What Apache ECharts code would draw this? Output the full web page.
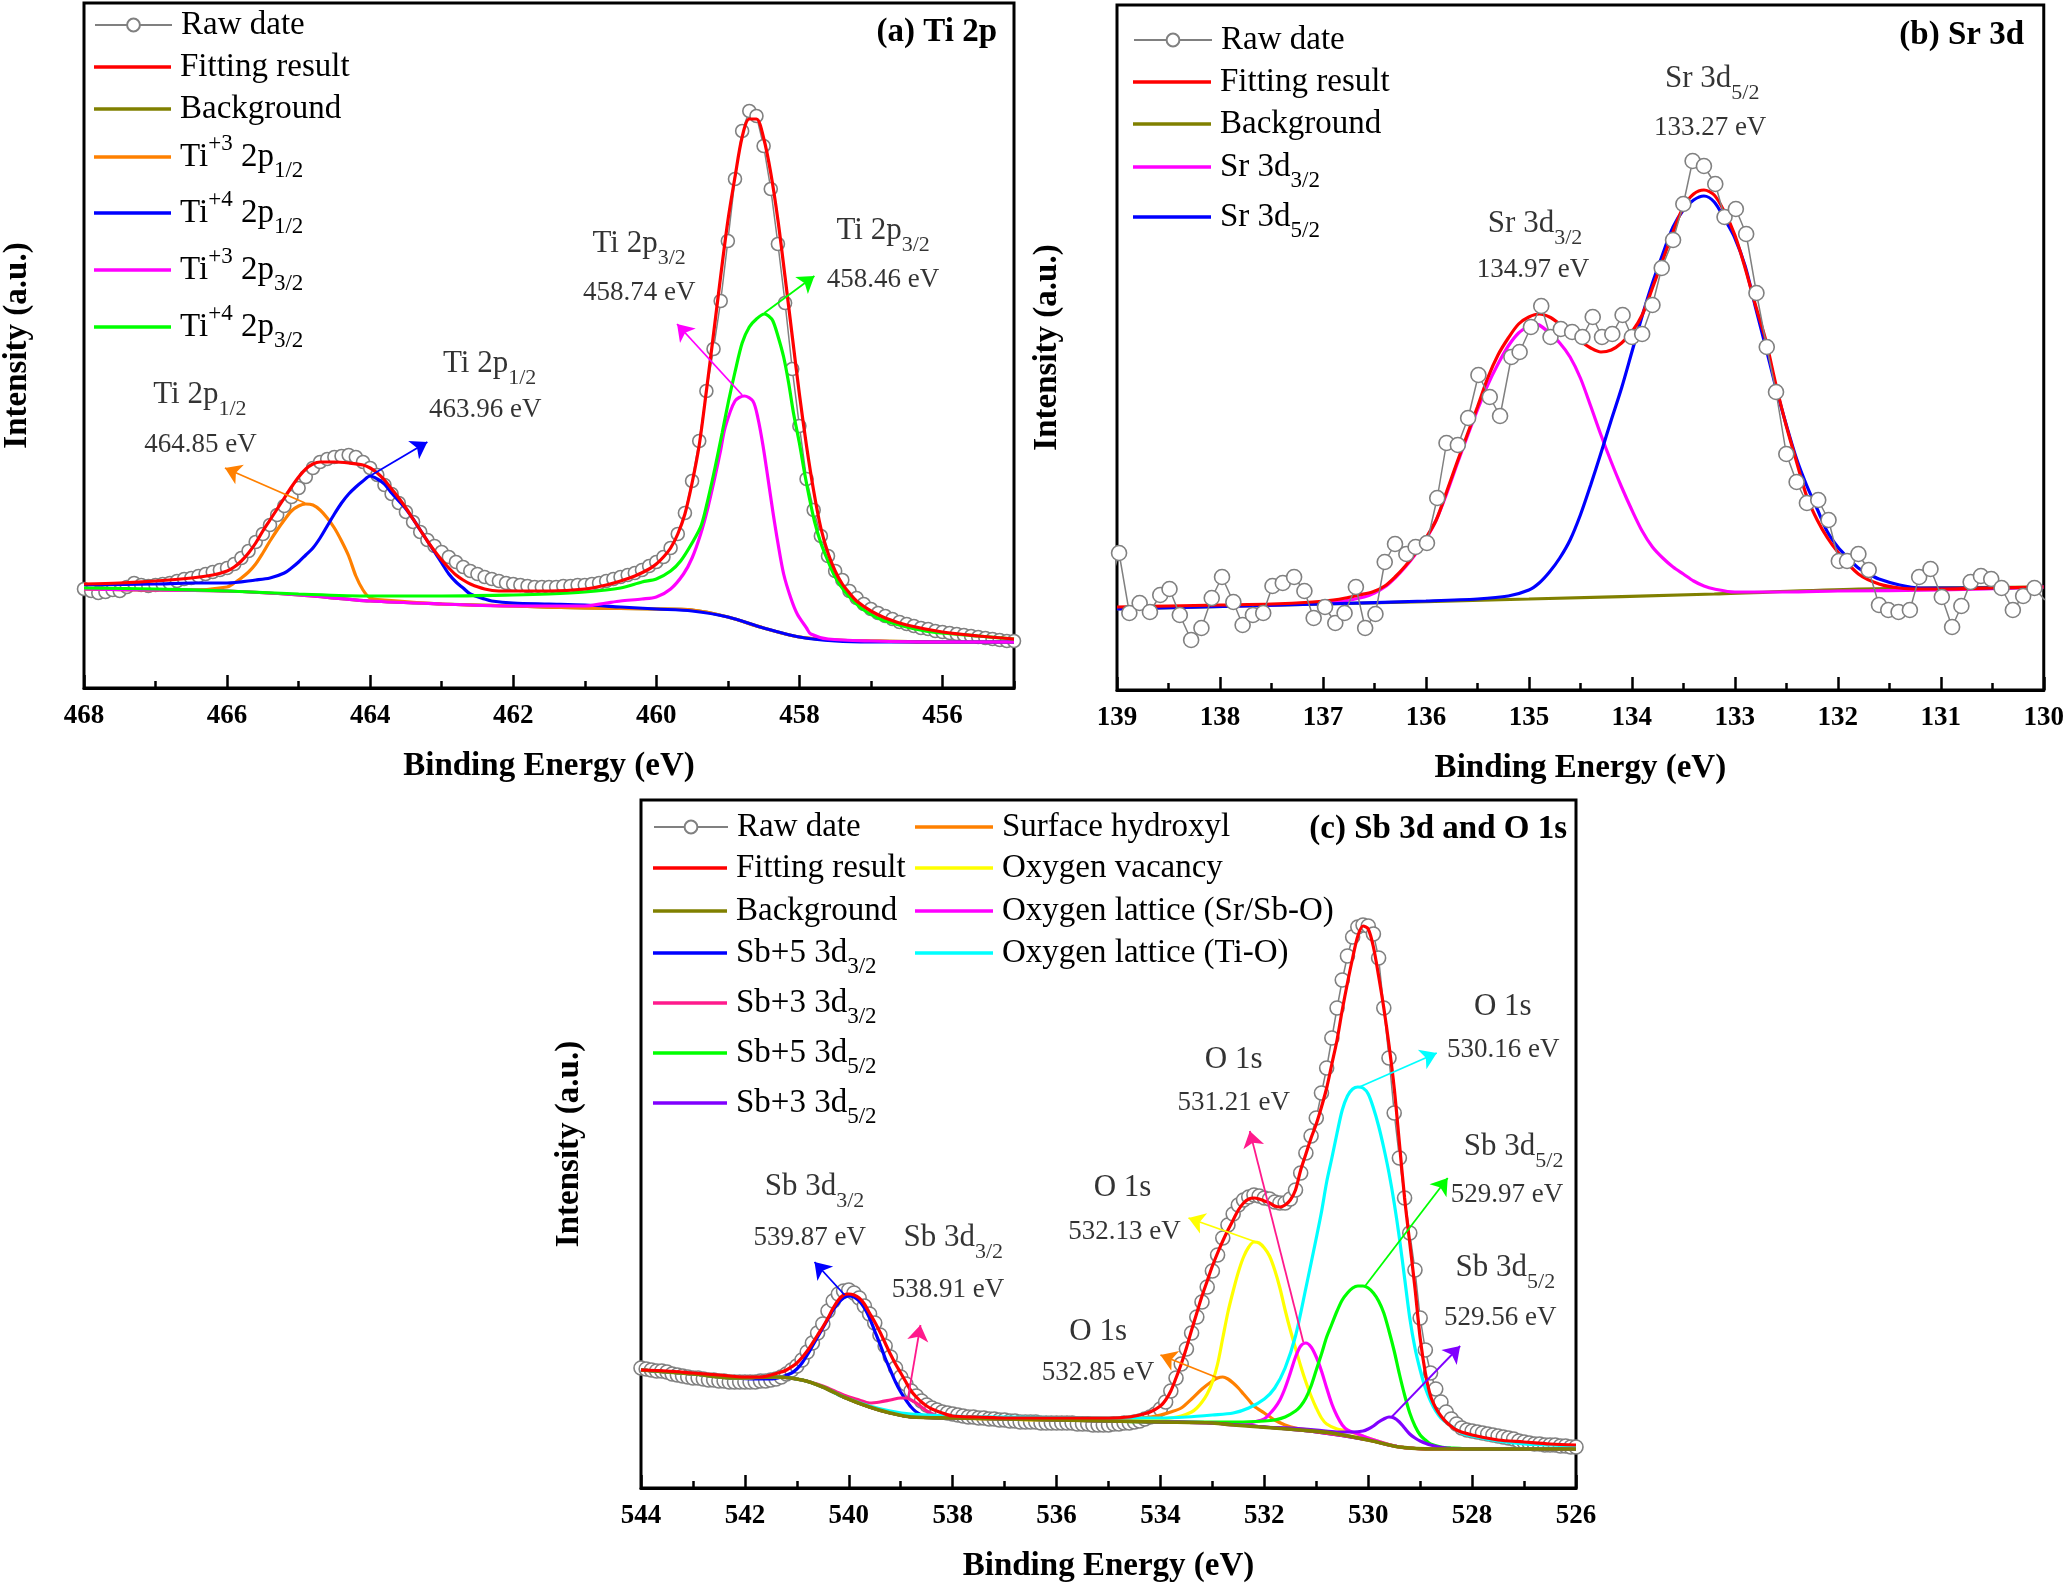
<!DOCTYPE html>
<html><head><meta charset="utf-8">
<script src="https://cdn.jsdelivr.net/npm/echarts@6/dist/echarts.min.js"></script>
<style>html,body{margin:0;padding:0;background:#fff}#c{width:2067px;height:1587px}</style>
</head><body><div id="c"></div>
<script>
// ---------------- Panel (a) Ti 2p ----------------
const aMajorTicks = [456,458,460,462,464,466,468];
const aMinorTicks = [455,457,459,461,463,465,467];
const aRaw = [[468.0,99],[467.9,97],[467.8,95],[467.7,96],[467.6,98],[467.5,97],[467.4,101],[467.3,105],[467.2,103],[467.1,102],[467.0,103],[466.9,104],[466.8,105],[466.7,107],[466.6,109],[466.5,110],[466.4,112],[466.3,114],[466.2,116],[466.1,118],[466.0,120],[465.9,124],[465.8,130],[465.7,137],[465.6,146],[465.5,154],[465.4,163],[465.3,173],[465.2,182],[465.1,191],[465.0,200],[464.9,211],[464.8,220],[464.7,226],[464.6,229],[464.5,231],[464.4,232],[464.3,233],[464.2,231],[464.1,226],[464.0,220],[463.9,213],[463.8,203],[463.7,194],[463.6,185],[463.5,176],[463.4,166],[463.3,156],[463.2,148],[463.1,142],[463.0,136],[462.9,131],[462.8,126],[462.7,121],[462.6,117],[462.5,114],[462.4,111],[462.3,109],[462.2,107],[462.1,105],[462.0,104],[461.9,103],[461.8,102],[461.7,101],[461.6,101],[461.5,101],[461.4,101],[461.3,102],[461.2,102],[461.1,103],[461.0,103],[460.9,104],[460.8,105],[460.7,107],[460.6,109],[460.5,111],[460.4,113],[460.3,115],[460.2,118],[460.1,122],[460.0,126],[459.9,131],[459.8,140],[459.7,154],[459.6,175],[459.5,207],[459.4,247],[459.3,297],[459.2,339],[459.1,387],[459.0,447],[458.9,509],[458.8,557],[458.7,577],[458.6,572],[458.5,542],[458.4,499],[458.3,444],[458.2,385],[458.1,319],[458.0,262],[457.9,209],[457.8,178],[457.7,152],[457.6,132],[457.5,117],[457.4,108],[457.3,97],[457.2,90],[457.1,84],[457.0,79],[456.9,75],[456.8,72],[456.7,69],[456.6,66],[456.5,64],[456.4,62],[456.3,60],[456.2,59],[456.1,57],[456.0,56],[455.9,55],[455.8,54],[455.7,53],[455.6,52],[455.5,51],[455.4,50],[455.3,49],[455.2,48],[455.1,47],[455.0,47]];
const aFit = [[468,104],[467.5,105],[467,107],[466.5,110],[466.2,113],[466,117],[465.9,121],[465.8,127],[465.7,135],[465.6,145],[465.5,157],[465.4,168],[465.3,179],[465.2,190],[465.1,201],[465,211],[464.9,219],[464.8,224],[464.7,226],[464.5,226],[464.3,225],[464.1,223],[464,220],[463.9,215],[463.8,208],[463.7,199],[463.6,190],[463.5,180],[463.4,169],[463.3,158],[463.2,147],[463.1,137],[463,128],[462.9,120],[462.8,113],[462.7,108],[462.6,104],[462.4,99],[462.2,97],[462,97],[461.5,97],[461,99],[460.7,103],[460.5,107],[460.3,112],[460.1,119],[460,124],[459.9,131],[459.8,140],[459.7,154],[459.6,174],[459.5,205],[459.4,243],[459.3,297],[459.2,354],[459.1,412],[459,467],[458.9,511],[458.8,551],[458.7,569],[458.6,569],[458.5,550],[458.4,515],[458.3,468],[458.2,411],[458.1,352],[458,294],[457.9,242],[457.8,197],[457.7,160],[457.6,135],[457.5,117],[457.4,104],[457.3,95],[457.2,87],[457,77],[456.8,70],[456.5,63],[456,56],[455.5,52],[455,49]];
const aBg = [[468,99],[467,98],[466,97],[465,93],[464,87],[463,84],[462,82],[461,80],[460,79],[459.5,78],[459,71],[458.5,60],[458,51],[457.5,48],[457,47],[456,46],[455,46]];
const aTi3_12 = [[468,99],[467,98],[466.5,98],[466,101],[465.9,105],[465.8,110],[465.7,116],[465.6,124],[465.5,135],[465.4,147],[465.3,158],[465.2,168],[465.1,177],[465,182],[464.9,184],[464.8,183],[464.7,178],[464.6,170],[464.5,160],[464.4,147],[464.3,132],[464.2,112],[464.1,98],[464,90],[463.8,88],[463,84],[462,82],[461,80],[460,79],[459.5,78],[459,71],[458.5,60],[458,51],[457.5,48],[457,47],[456,46],[455,46]];
const aTi4_12 = [[468,103],[467,104],[466.5,105],[466,105],[465.6,108],[465.4,110],[465.2,115],[465.1,120],[465,126],[464.9,133],[464.8,140],[464.7,150],[464.6,162],[464.5,174],[464.4,185],[464.3,194],[464.2,201],[464.1,207],[464,212],[463.9,209],[463.8,204],[463.7,195],[463.6,187],[463.5,179],[463.4,169],[463.3,158],[463.2,147],[463.1,136],[463,125],[462.9,114],[462.8,106],[462.7,100],[462.6,94],[462.4,89],[462.3,87],[462,85],[461.5,84],[461,83],[460.5,81],[460,79],[459.5,77],[459,71],[458.5,60],[458,51],[457.5,47],[457,46],[456,46],[455,46]];
const aTi3_32 = [[468,99],[467,98],[466,97],[465,93],[464,87],[463,84],[462,82],[461,82],[460.7,85],[460.5,87],[460.2,89],[460,91],[459.8,99],[459.62,114],[459.5,130],[459.38,154],[459.28,180],[459.18,211],[459.1,238],[459.04,260],[458.9,287],[458.77,292],[458.65,287],[458.58,270],[458.51,243],[458.44,210],[458.37,176],[458.3,145],[458.22,114],[458.12,90],[458.03,74],[457.9,60],[457.84,54],[457.6,49],[457,47],[456,46],[455,46]];
const aTi4_32 = [[468,100],[467,99],[466,97],[465,94],[464,92],[463,92],[462,93],[461.5,94],[461,96],[460.5,100],[460.2,106],[460,109],[459.8,117],[459.66,127],[459.5,145],[459.37,163],[459.28,188],[459.18,220],[459.08,255],[458.99,287],[458.9,316],[458.8,345],[458.7,361],[458.6,369],[458.49,374],[458.43,372],[458.37,367],[458.3,352],[458.22,331],[458.15,305],[458.08,274],[458,245],[457.93,216],[457.86,190],[457.79,167],[457.7,145],[457.6,127],[457.5,111],[457.36,96],[457.2,84],[457.1,78],[456.87,69],[456.5,61],[456.15,56],[455.5,52],[455,49]];
const aLabels = [['Ti 2p_{1/2}',466.38,293,'L'],['464.85 eV',466.37,243,'N'],['Ti 2p_{1/2}',462.33,324,'L'],['463.96 eV',462.39,278,'N'],['Ti 2p_{3/2}',460.24,444,'L'],['458.74 eV',460.24,395,'N'],['Ti 2p_{3/2}',456.83,457,'L'],['458.46 eV',456.83,408,'N']];
const aArrows = [[464.91,185,466.03,220,'#ff8000'],[463.98,213,463.2,246,'#0000ff'],[458.8,293,459.71,364,'#ff00ff'],[458.49,375,457.79,412,'#00ff00']];

// ---------------- Panel (b) Sr 3d ----------------
const bMajorTicks = [130,131,132,133,134,135,136,137,138,139];
const bMinorTicks = [130.5,131.5,132.5,133.5,134.5,135.5,136.5,137.5,138.5];
const bRaw = [[139.07,105],[138.98,137],[138.88,77],[138.78,87],[138.68,78],[138.58,95],[138.49,101],[138.39,75],[138.28,50],[138.18,62],[138.08,92],[137.98,113],[137.87,88],[137.78,65],[137.68,75],[137.58,77],[137.49,104],[137.39,107],[137.28,113],[137.18,99],[137.09,72],[136.98,83],[136.88,67],[136.79,77],[136.68,103],[136.59,62],[136.49,76],[136.40,128],[136.30,146],[136.19,136],[136.10,143],[135.99,147],[135.89,192],[135.80,247],[135.69,245],[135.59,272],[135.49,315],[135.38,293],[135.28,274],[135.17,333],[135.09,338],[134.98,363],[134.88,384],[134.79,353],[134.69,361],[134.58,358],[134.48,353],[134.38,373],[134.29,353],[134.19,356],[134.09,375],[134.00,353],[133.90,356],[133.80,385],[133.71,422],[133.60,450],[133.50,486],[133.41,529],[133.30,524],[133.19,506],[133.10,473],[132.99,481],[132.89,456],[132.79,397],[132.69,343],[132.60,298],[132.50,236],[132.40,208],[132.30,187],[132.19,190],[132.09,170],[131.99,129],[131.91,129],[131.80,136],[131.70,120],[131.60,85],[131.51,80],[131.41,78],[131.30,80],[131.21,113],[131.10,121],[130.99,93],[130.89,63],[130.80,84],[130.71,108],[130.61,114],[130.51,111],[130.41,102],[130.30,80],[130.20,94],[130.09,102],[129.99,90]];
const bFit = [[139,83],[138.5,84],[138,85],[137.5,86],[137.1,88],[136.9,90],[136.78,92],[136.65,95],[136.52,98],[136.4,104],[136.3,113],[136.2,124],[136.1,137],[136,152],[135.9,170],[135.8,198],[135.7,227],[135.6,255],[135.5,283],[135.4,312],[135.3,335],[135.2,352],[135.1,366],[135,373],[134.9,376],[134.8,373],[134.7,366],[134.6,358],[134.5,349],[134.4,342],[134.3,338],[134.2,340],[134.1,347],[134,358],[133.9,375],[133.8,402],[133.7,430],[133.6,458],[133.5,483],[133.4,496],[133.3,500],[133.2,495],[133.1,478],[133,455],[132.9,422],[132.8,385],[132.7,350],[132.6,305],[132.5,264],[132.4,228],[132.3,193],[132.2,170],[132.1,152],[132,138],[131.8,116],[131.6,106],[131.4,102],[131.2,101],[131,101],[130.5,102],[130,103]];
const bBg = [[139,81],[137,86],[135,91],[133.2,96],[131.8,101],[130,103]];
const bSr32 = [[139,82],[138,84],[137.5,85],[137,87],[136.8,89],[136.6,93],[136.5,97],[136.4,103],[136.3,112],[136.2,123],[136.1,136],[136,151],[135.9,170],[135.8,196],[135.7,225],[135.6,253],[135.5,280],[135.4,305],[135.3,326],[135.2,344],[135.1,357],[135,364],[134.95,366],[134.9,365],[134.8,357],[134.7,347],[134.6,333],[134.5,312],[134.4,284],[134.3,255],[134.2,228],[134.1,203],[134,180],[133.9,159],[133.8,143],[133.7,132],[133.6,123],[133.5,116],[133.4,109],[133.3,104],[133.2,101],[133,98],[132.5,98],[132,99],[131,100],[130,103]];
const bSr52 = [[139,81],[137,86],[136,89],[135.5,91],[135.2,94],[135,100],[134.9,107],[134.8,118],[134.7,132],[134.6,150],[134.5,175],[134.4,205],[134.3,237],[134.2,270],[134.1,302],[134,338],[133.9,374],[133.8,407],[133.7,436],[133.6,463],[133.5,480],[133.4,490],[133.3,494],[133.2,488],[133.1,471],[133,452],[132.9,424],[132.8,383],[132.7,343],[132.6,302],[132.5,265],[132.4,231],[132.3,204],[132.2,181],[132.1,158],[132,143],[131.9,132],[131.8,122],[131.7,116],[131.6,111],[131.4,105],[131.2,102],[131,102],[130.5,102],[130,103]];
const bLabels = [['Sr 3d_{5/2}',133.22,611,'L'],['133.27 eV',133.24,562,'N'],['Sr 3d_{3/2}',134.94,466,'L'],['134.97 eV',134.96,420,'N']];

// ---------------- Panel (c) Sb 3d and O 1s ----------------
const cMajorTicks = [526,528,530,532,534,536,538,540,542,544];
const cMinorTicks = [527,529,531,533,535,537,539,541,543];
const cRaw = [[544.0,120],[543.9,119],[543.8,118],[543.7,117],[543.6,117],[543.5,116],[543.4,114],[543.3,113],[543.2,112],[543.1,111],[543.0,110],[542.9,110],[542.8,109],[542.7,108],[542.6,108],[542.5,107],[542.4,107],[542.3,106],[542.2,106],[542.1,106],[542.0,106],[541.9,106],[541.8,106],[541.7,107],[541.6,107],[541.5,108],[541.4,109],[541.3,111],[541.2,114],[541.1,118],[541.0,122],[540.9,128],[540.8,136],[540.7,145],[540.6,155],[540.5,164],[540.4,177],[540.3,187],[540.2,194],[540.1,197],[540.0,198],[539.9,195],[539.8,190],[539.7,182],[539.6,174],[539.5,165],[539.4,153],[539.3,142],[539.2,131],[539.1,120],[539.0,111],[538.9,104],[538.8,97],[538.7,92],[538.6,87],[538.5,83],[538.4,80],[538.3,78],[538.2,76],[538.1,75],[538.0,74],[537.9,73],[537.8,72],[537.7,71],[537.6,71],[537.5,70],[537.4,70],[537.3,69],[537.2,69],[537.1,68],[537.0,68],[536.9,67],[536.8,67],[536.7,66],[536.6,66],[536.5,66],[536.4,66],[536.3,65],[536.2,65],[536.1,65],[536.0,65],[535.9,65],[535.8,65],[535.7,65],[535.6,64],[535.5,64],[535.4,64],[535.3,63],[535.2,63],[535.1,63],[535.0,63],[534.9,64],[534.8,64],[534.7,65],[534.6,65],[534.5,66],[534.4,67],[534.3,69],[534.2,71],[534.1,74],[534.0,79],[533.9,86],[533.8,97],[533.7,110],[533.6,124],[533.5,139],[533.4,155],[533.3,171],[533.2,186],[533.1,201],[533.0,217],[532.9,233],[532.8,250],[532.7,263],[532.6,274],[532.5,283],[532.4,288],[532.3,291],[532.2,293],[532.1,292],[532.0,290],[531.9,289],[531.8,286],[531.7,285],[531.6,285],[531.5,289],[531.4,298],[531.3,315],[531.2,335],[531.1,352],[531.0,370],[530.9,395],[530.8,420],[530.7,450],[530.6,480],[530.5,508],[530.4,532],[530.3,551],[530.2,561],[530.1,563],[530.0,562],[529.9,554],[529.8,530],[529.7,480],[529.6,430],[529.5,375],[529.4,330],[529.3,290],[529.2,255],[529.1,218],[529.0,170],[528.9,138],[528.8,115],[528.7,99],[528.6,86],[528.5,76],[528.4,69],[528.3,64],[528.2,60],[528.1,58],[528.0,57],[527.9,56],[527.8,55],[527.7,54],[527.6,53],[527.5,52],[527.4,51],[527.3,50],[527.2,49],[527.1,47],[527.0,46],[526.9,45],[526.8,44],[526.7,44],[526.6,43],[526.5,43],[526.4,43],[526.3,42],[526.2,42],[526.1,41],[526.0,41]];
const cFit = [[544,118],[543.5,117],[543,115],[542.5,113],[542,111],[541.7,111],[541.5,113],[541.3,116],[541.2,118],[541,125],[540.8,137],[540.6,153],[540.5,161],[540.4,170],[540.3,180],[540.2,188],[540.1,193],[540,194],[539.9,193],[539.8,190],[539.7,184],[539.6,175],[539.5,166],[539.4,156],[539.3,145],[539.2,134],[539.1,124],[539,115],[538.9,106],[538.8,97],[538.7,91],[538.6,86],[538.5,82],[538.4,79],[538.2,75],[538,72],[537.5,71],[537,70],[536,70],[535,70],[534.6,71],[534.4,73],[534.2,76],[534,82],[533.9,88],[533.8,97],[533.7,110],[533.6,124],[533.5,140],[533.4,158],[533.3,175],[533.2,192],[533.1,207],[533,222],[532.9,235],[532.8,247],[532.7,258],[532.6,268],[532.5,278],[532.4,285],[532.3,289],[532.2,290],[532.1,289],[532,287],[531.9,285],[531.8,282],[531.7,281],[531.6,283],[531.5,288],[531.4,298],[531.3,318],[531.2,334],[531.1,350],[531,364],[530.9,381],[530.8,400],[530.7,424],[530.6,448],[530.5,478],[530.4,505],[530.3,530],[530.2,552],[530.1,562],[530,559],[529.9,541],[529.8,512],[529.7,480],[529.6,443],[529.5,400],[529.4,345],[529.3,290],[529.2,245],[529.1,200],[529,150],[528.9,115],[528.8,92],[528.7,80],[528.6,72],[528.5,66],[528.3,58],[528,53],[527.5,48],[527,46],[526.5,44],[526,43]];
const cBg = [[544,118],[543,114],[542.2,110],[541.4,111],[540.9,108],[540.5,101],[540.1,91],[539.6,81],[539.2,75],[538.8,71],[538,70],[536,68],[534,66],[533,65],[532.6,63],[531.3,58],[530.7,55],[530,48],[529.4,41],[528.7,39],[526,39]];
const cSb5_32 = [[544,118],[543,114],[542.2,110],[541.8,109],[541.5,109],[541.3,111],[541.1,115],[541,119],[540.9,125],[540.8,133],[540.7,142],[540.6,151],[540.5,160],[540.4,169],[540.3,178],[540.2,185],[540.1,190],[540,192],[539.9,191],[539.8,187],[539.7,180],[539.6,170],[539.5,157],[539.4,144],[539.3,130],[539.2,118],[539.1,106],[539,96],[538.9,88],[538.8,81],[538.7,76],[538.6,73],[538.5,71],[538.3,70],[538,70],[536,68],[534,66],[533,65],[532,61],[531,56],[530,48],[529.4,41],[528.7,39],[526,39]];
const cSb3_32 = [[544,118],[543,114],[542.2,110],[541.4,111],[540.9,108],[540.5,102],[540.1,93],[539.8,88],[539.6,85],[539.4,86],[539.2,88],[539,90],[538.9,90],[538.8,88],[538.7,85],[538.6,81],[538.5,77],[538.3,72],[538.1,70],[537.5,70],[536,68],[534,66],[533,65],[532,61],[531,56],[530,48],[529.4,41],[528.7,39],[526,39]];
const cSb5_52 = [[544,118],[543,114],[542.2,110],[541.4,111],[540.9,108],[540.5,101],[540.1,91],[539.6,81],[539.2,75],[538.8,71],[538,70],[536,68],[534,66],[533,66],[532.5,66],[532,67],[531.8,68],[531.6,71],[531.4,77],[531.3,82],[531.2,90],[531.1,102],[531,118],[530.9,134],[530.8,151],[530.7,164],[530.6,177],[530.5,188],[530.4,195],[530.3,200],[530.2,202],[530.1,202],[530,200],[529.9,195],[529.8,187],[529.7,175],[529.6,157],[529.5,137],[529.4,114],[529.3,93],[529.2,75],[529.1,62],[529,53],[528.9,48],[528.8,44],[528.6,41],[528.4,40],[528,39],[526,39]];
const cSb3_52 = [[544,118],[543,114],[542.2,110],[541.4,111],[540.9,108],[540.5,101],[540.1,91],[539.6,81],[539.2,75],[538.8,71],[538,70],[536,68],[534,66],[533,65],[532,61],[531.5,60],[531,58],[530.6,56],[530.3,56],[530.1,57],[530,59],[529.9,62],[529.8,66],[529.7,69],[529.6,71],[529.5,70],[529.4,66],[529.3,60],[529.2,54],[529.1,50],[529,47],[528.8,43],[528.5,40],[528,39],[526,39]];
const cHydroxyl = [[544,118],[543,114],[542.2,110],[541.4,111],[540.9,108],[540.5,101],[540.1,91],[539.6,81],[539.2,75],[538.8,71],[538,70],[536,68],[535,68],[534.6,69],[534.2,71],[534,73],[533.8,76],[533.6,80],[533.4,89],[533.2,99],[533,107],[532.9,110],[532.8,111],[532.7,109],[532.6,105],[532.5,100],[532.4,94],[532.3,88],[532.2,82],[532,75],[531.8,68],[531.6,63],[531.4,60],[531,57],[530.7,55],[530,48],[529.4,41],[528.7,39],[526,39]];
const cVacancy = [[544,118],[543,114],[542.2,110],[541.4,111],[540.9,108],[540.5,101],[540.1,91],[539.6,81],[539.2,75],[538.8,71],[538,70],[536,68],[534.5,68],[534,69],[533.8,70],[533.6,72],[533.4,76],[533.3,80],[533.2,86],[533.1,94],[533,106],[532.9,124],[532.8,150],[532.7,176],[532.6,197],[532.5,216],[532.4,231],[532.3,241],[532.2,246],[532.1,245],[532,240],[531.9,232],[531.8,218],[531.7,200],[531.6,178],[531.5,158],[531.4,140],[531.3,122],[531.2,106],[531.1,92],[531,80],[530.9,70],[530.8,64],[530.6,59],[530.4,57],[530,50],[529.4,41],[528.7,39],[526,39]];
const cLatticeSr = [[544,118],[543,114],[542.2,110],[541.4,111],[540.9,108],[540.5,101],[540.1,91],[539.6,81],[539.2,75],[538.8,71],[538,70],[536,68],[534,66],[533,65],[532.6,63],[532.4,64],[532.2,66],[532,69],[531.9,74],[531.8,80],[531.7,88],[531.6,100],[531.5,115],[531.4,131],[531.3,142],[531.2,145],[531.1,141],[531,131],[530.9,117],[530.8,100],[530.7,84],[530.6,72],[530.5,63],[530.4,58],[530.2,54],[530,50],[529.4,41],[528.7,39],[526,39]];
const cLatticeTi = [[544,118],[543,114],[542.2,110],[541.4,111],[540.9,108],[540.5,101],[540.1,91],[539.6,82],[539.2,77],[538.8,74],[538,72],[537,71],[535,70],[534,70],[533.5,71],[533,73],[532.6,75],[532.3,80],[532,89],[531.8,100],[531.6,120],[531.4,152],[531.2,200],[531,250],[530.9,276],[530.8,306],[530.7,330],[530.6,355],[530.5,378],[530.4,392],[530.3,399],[530.2,401],[530.1,400],[530,394],[529.9,380],[529.8,362],[529.7,340],[529.6,315],[529.5,285],[529.4,250],[529.3,210],[529.2,170],[529.1,140],[529,118],[528.9,100],[528.8,87],[528.7,77],[528.6,70],[528.4,62],[528.2,55],[528,52],[527.5,47],[527,44],[526.5,43],[526,42]];
const cLabels = [['Sb 3d_{3/2}',540.66,301,'L'],['539.87 eV',540.75,250,'N'],['Sb 3d_{3/2}',537.99,250,'L'],['538.91 eV',538.09,198,'N'],['O 1s',534.73,300,'L'],['532.13 eV',534.69,256,'N'],['O 1s',535.2,156,'L'],['532.85 eV',535.2,115,'N'],['O 1s',532.59,428,'L'],['531.21 eV',532.59,385,'N'],['O 1s',527.41,481,'L'],['530.16 eV',527.4,438,'N'],['Sb 3d_{5/2}',527.2,341,'L'],['529.97 eV',527.33,293,'N'],['Sb 3d_{5/2}',527.36,220,'L'],['529.56 eV',527.46,170,'N']];
const cArrows = [[540.08,193,540.66,226,'#0000ff'],[538.86,90,538.62,163,'#ff1a8c'],[532.16,246,533.46,270,'#ffff00'],[532.89,110,534.0,133,'#ff8000'],[531.25,146,532.28,357,'#ff1a8c'],[530.17,401,528.68,435,'#00ffff'],[530.06,202,528.47,310,'#00ff00'],[529.55,71,528.23,142,'#8000ff']];

// ---------------- styling / build ----------------
const SERIF = '"Liberation Serif","Times New Roman",Times,serif';
const RICH = {
  lg:{fontFamily:SERIF,fontSize:33,lineHeight:50,verticalAlign:'middle',color:'#000'},
  lgSub:{fontFamily:SERIF,fontSize:23,lineHeight:22,verticalAlign:'bottom',color:'#000'},
  lgSup:{fontFamily:SERIF,fontSize:23,lineHeight:30,verticalAlign:'top',color:'#000'},
  L:{fontFamily:SERIF,fontSize:31,lineHeight:50,verticalAlign:'middle',color:'#000'},
  LSub:{fontFamily:SERIF,fontSize:22,lineHeight:22,verticalAlign:'bottom',color:'#000'},
  LSup:{fontFamily:SERIF,fontSize:22,lineHeight:30,verticalAlign:'top',color:'#000'},
  N:{fontFamily:SERIF,fontSize:27,lineHeight:36,verticalAlign:'middle',color:'#000'},
  NSub:{fontFamily:SERIF,fontSize:19,verticalAlign:'bottom',color:'#000'},
  NSup:{fontFamily:SERIF,fontSize:19,verticalAlign:'top',color:'#000'}
};
function toRich(s, base){
  return s.split(/(\^\{[^}]*\}|_\{[^}]*\})/).filter(p=>p).map(p=>{
    if(p[0]==='^') return '{'+base+'Sup|'+p.slice(2,-1)+'}';
    if(p[0]==='_') return '{'+base+'Sub|'+p.slice(2,-1)+'}';
    return '{'+base+'|'+p+'}';
  }).join('');
}
const COL = {red:'#ff0000',olive:'#808000',orange:'#ff8000',blue:'#0000ff',magenta:'#ff00ff',green:'#00ff00',cyan:'#00ffff',yellow:'#ffff00',pink:'#ff1a8c',purple:'#8000ff',gray:'#808080'};

const grids = [
  {left:82, top:3, width:932, height:685},
  {left:1117, top:5, width:931, height:685},
  {left:641, top:800, width:935, height:688}
];
const xr = [[455,468,aMajorTicks,aMinorTicks],[130,139,bMajorTicks,bMinorTicks],[526,544,cMajorTicks,cMinorTicks]];
const yNameGap = [50,53,55];

const xAxis = [], yAxis = [];
grids.forEach((g,i)=>{
  const [mn,mx,maj,mnr] = xr[i];
  xAxis.push({gridIndex:i,type:'value',min:mn,max:mx,inverse:true,position:'bottom',
    axisLine:{show:true,lineStyle:{color:'#000',width:3}},
    axisTick:{show:true,inside:true,length:13,lineStyle:{color:'#000',width:2.5},customValues:maj},
    axisLabel:{show:true,customValues:maj,margin:15,fontFamily:SERIF,fontSize:27,fontWeight:'bold',color:'#000'},
    splitLine:{show:false},
    name:'Binding Energy (eV)',nameLocation:'middle',nameGap:62,
    nameTextStyle:{fontFamily:SERIF,fontSize:33,fontWeight:'bold',color:'#000'}});
  xAxis.push({gridIndex:i,type:'value',min:mn,max:mx,inverse:true,position:'bottom',
    axisLine:{show:false},
    axisTick:{show:true,inside:true,length:7,lineStyle:{color:'#000',width:2.5},customValues:mnr},
    axisLabel:{show:false},splitLine:{show:false}});
  yAxis.push({gridIndex:i,type:'value',min:0,max:g.height,
    axisLine:{show:false},axisTick:{show:false},axisLabel:{show:false},splitLine:{show:false},
    name:'Intensity (a.u.)',nameLocation:'middle',nameGap:yNameGap[i],
    nameTextStyle:{fontFamily:SERIF,fontSize:33,fontWeight:'bold',color:'#000'}});
});

const DISPLAY = {};
const series = [];
function rawS(name, disp, data, gi, size, z){
  DISPLAY[name]=disp;
  series.push({type:'line',name,xAxisIndex:gi*2,yAxisIndex:gi,data,symbol:'circle',symbolSize:size,showSymbol:true,
    color:COL.gray,itemStyle:{color:'#ffffff',borderColor:COL.gray,borderWidth:1.6},
    lineStyle:{color:COL.gray,width:1.5},z,animation:false,silent:true});
}
function lnS(name, disp, data, color, gi, z, w){
  DISPLAY[name]=disp;
  series.push({type:'line',name,xAxisIndex:gi*2,yAxisIndex:gi,data,symbol:'none',smooth:0.3,
    color,lineStyle:{color,width:w||3.2},z,animation:false,silent:true});
}
function labS(labels, arrows, gi){
  series.push({type:'scatter',name:'lab'+gi,xAxisIndex:gi*2,yAxisIndex:gi,symbolSize:1,
    itemStyle:{color:'rgba(0,0,0,0)'},
    z:10,animation:false,silent:true,
    label:{show:true,position:'inside',color:'#000',rich:RICH},
    data:labels.map(l=>({value:[l[1],l[2]],label:{show:true,position:'inside',color:'#000',formatter:toRich(l[0],l[3]),rich:RICH}})),
    markLine:{silent:true,animation:false,symbol:['none','arrow'],symbolSize:16,label:{show:false},
      data:arrows.map(a=>[{coord:[a[0],a[1]],lineStyle:{color:a[4],width:1.8,type:'solid'}},{coord:[a[2],a[3]]}])}});
}
// panel a
rawS('a_raw','Raw date',aRaw,0,13,1);
lnS('a_bg','Background',aBg,COL.olive,0,2);
lnS('a_t3h','Ti^{+3} 2p_{1/2}',aTi3_12,COL.orange,0,3);
lnS('a_t4h','Ti^{+4} 2p_{1/2}',aTi4_12,COL.blue,0,3);
lnS('a_t3t','Ti^{+3} 2p_{3/2}',aTi3_32,COL.magenta,0,3);
lnS('a_t4t','Ti^{+4} 2p_{3/2}',aTi4_32,COL.green,0,3);
lnS('a_fit','Fitting result',aFit,COL.red,0,4);
labS(aLabels,aArrows,0);
// panel b
lnS('b_bg','Background',bBg,COL.olive,1,2);
lnS('b_32','Sr 3d_{3/2}',bSr32,COL.magenta,1,3);
lnS('b_52','Sr 3d_{5/2}',bSr52,COL.blue,1,3);
lnS('b_fit','Fitting result',bFit,COL.red,1,4);
rawS('b_raw','Raw date',bRaw,1,15,5);
labS(bLabels,[],1);
// panel c
rawS('c_raw','Raw date',cRaw,2,14,1);
lnS('c_s532','Sb+5 3d_{3/2}',cSb5_32,COL.blue,2,3);
lnS('c_s332','Sb+3 3d_{3/2}',cSb3_32,COL.pink,2,3);
lnS('c_oh','Surface hydroxyl',cHydroxyl,COL.orange,2,3);
lnS('c_vac','Oxygen vacancy',cVacancy,COL.yellow,2,3);
lnS('c_lsr','Oxygen lattice (Sr/Sb-O)',cLatticeSr,COL.magenta,2,3);
lnS('c_s552','Sb+5 3d_{5/2}',cSb5_52,COL.green,2,3);
lnS('c_s352','Sb+3 3d_{5/2}',cSb3_52,COL.purple,2,3);
lnS('c_lti','Oxygen lattice (Ti-O)',cLatticeTi,COL.cyan,2,3);
lnS('c_bg','Background',cBg,COL.olive,2,3.5,3.6);
lnS('c_fit','Fitting result',cFit,COL.red,2,4);
labS(cLabels,cArrows,2);

// legends: [seriesName, iconLeft, iconWidth, centerY]
const legendItems = [
  ['a_raw',94,77,25],['a_fit',94,77,67],['a_bg',94,77,109],['a_t3h',94,77,157],['a_t4h',94,77,213],['a_t3t',94,77,270],['a_t4t',94,77,327],
  ['b_raw',1133,78,40],['b_fit',1133,78,82],['b_bg',1133,78,124],['b_32',1133,78,167],['b_52',1133,78,217],
  ['c_raw',653,74,827],['c_fit',653,74,868],['c_bg',653,74,911],['c_s532',653,74,953],['c_s332',653,74,1003],['c_s552',653,74,1053],['c_s352',653,74,1103],
  ['c_oh',915,78,827],['c_vac',915,78,868],['c_lsr',915,78,911],['c_lti',915,78,953]
];
const legend = legendItems.map(it=>{
  const isRaw = it[0].endsWith('_raw');
  const o = {show:true,data:[it[0]],left:it[1],top:it[3]-25,padding:0,itemGap:0,selectedMode:false,
    itemWidth:it[2],itemHeight:isRaw?16:3.5,
    formatter:(n)=>toRich(DISPLAY[n],'lg'),
    textStyle:{fontFamily:SERIF,fontSize:33,lineHeight:50,color:'#000',rich:RICH,padding:[0,0,0,4]}};
  if(!isRaw) o.icon='rect';
  return o;
});

const titleStyle = {fontFamily:SERIF,fontSize:33,fontWeight:'bold',color:'#000'};
const option = {
  animation:false,
  backgroundColor:'#ffffff',
  title:[
    {text:'(a) Ti 2p',right:1070,top:16,padding:0,textStyle:titleStyle},
    {text:'(b) Sr 3d',right:43,top:19,padding:0,textStyle:titleStyle},
    {text:'(c) Sb 3d and O 1s',right:500,top:813,padding:0,textStyle:titleStyle}
  ],
  grid:grids.map(g=>Object.assign({show:true,borderColor:'#000',borderWidth:3,backgroundColor:'transparent',containLabel:false},g)),
  xAxis, yAxis, legend, series
};
const chart = echarts.init(document.getElementById('c'),null,{renderer:'canvas',width:2067,height:1587});
chart.setOption(option);
</script></body></html>
